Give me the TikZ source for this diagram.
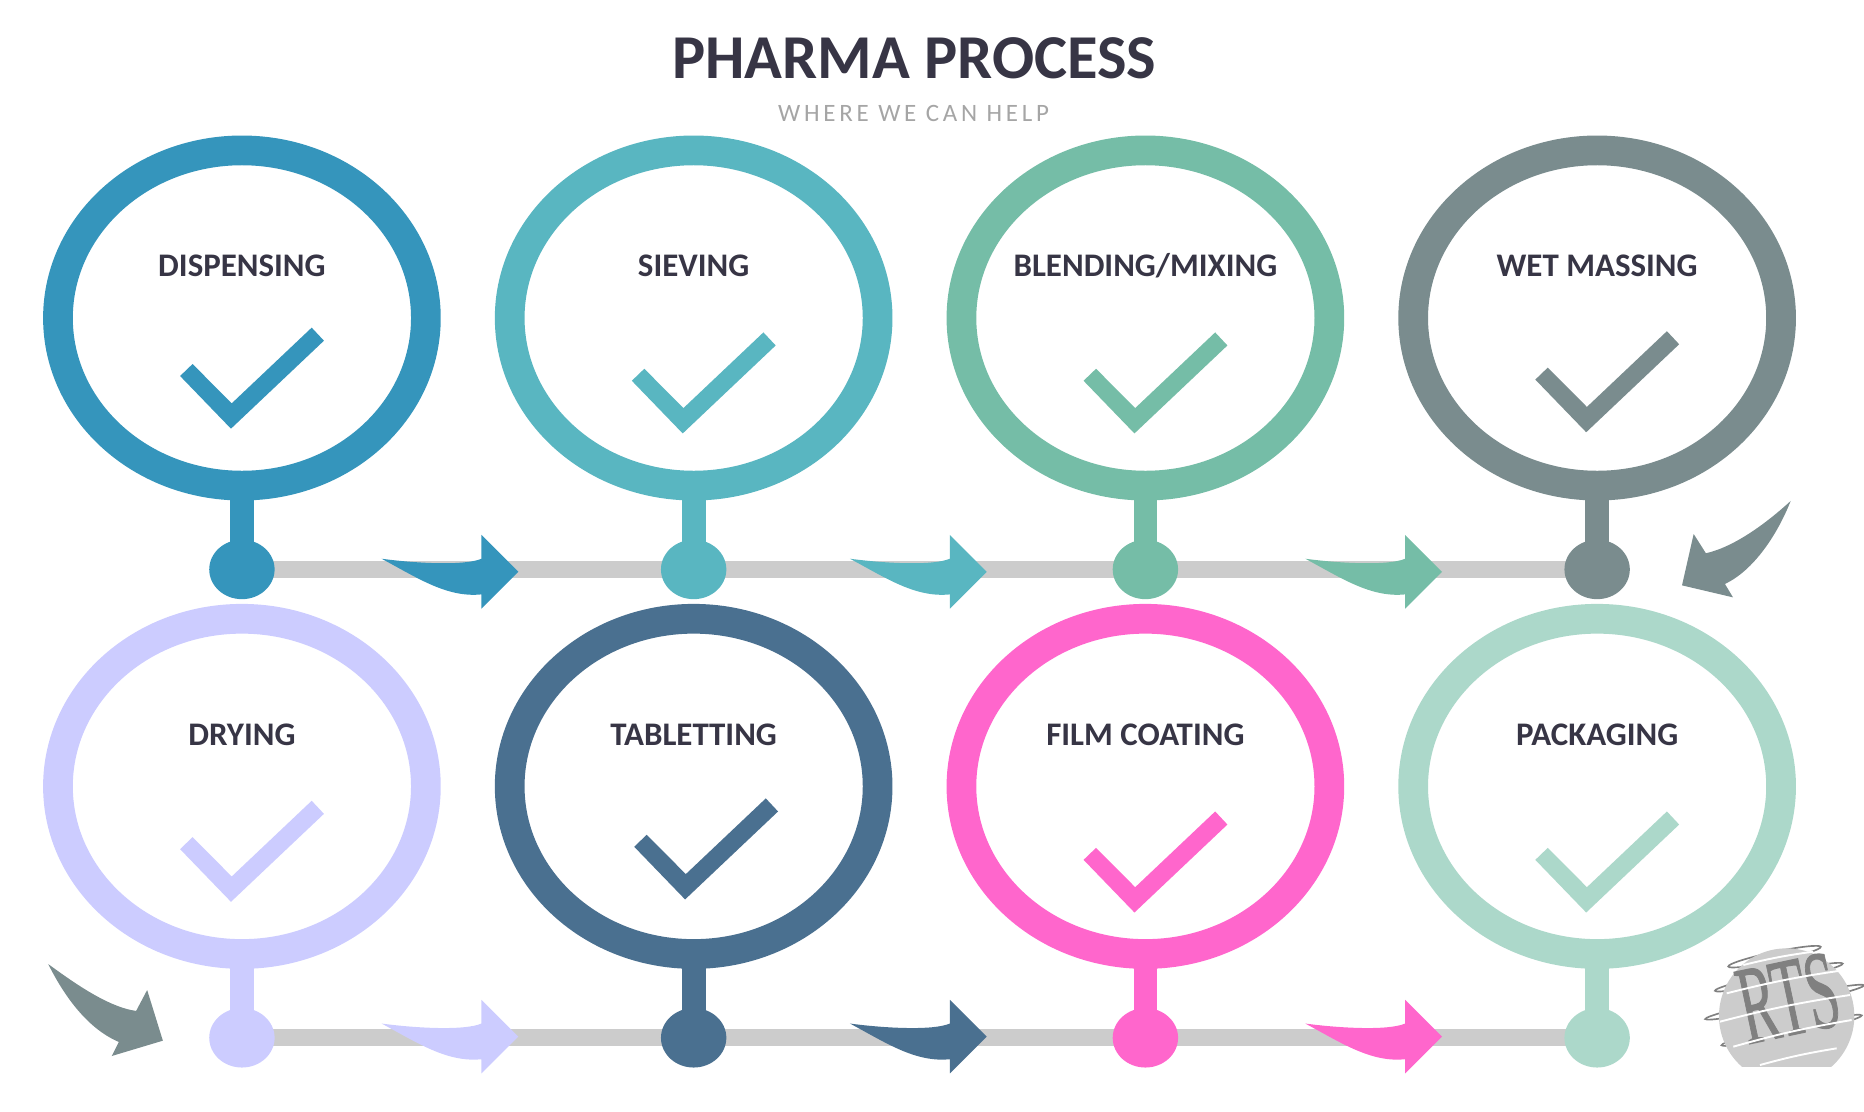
\documentclass[tikz,border=0pt]{standalone}
\usepackage{fontspec}
\setmainfont{Carlito}
\newfontfamily\subfont[LetterSpace=15]{Carlito}
\newfontfamily\logofont[FakeBold=1.2]{Liberation Serif}
\usetikzlibrary{backgrounds,calc,shapes.geometric}
\definecolor{inkdark}{HTML}{373545}
\definecolor{inkgrey}{HTML}{A5A5A5}
\definecolor{barcol}{HTML}{CCCCCC}
\definecolor{colA}{HTML}{3595BC}
\definecolor{colB}{HTML}{59B6C1}
\definecolor{colC}{HTML}{75BDA7}
\definecolor{colD}{HTML}{7A8C8E}
\definecolor{colE}{HTML}{CCCCFF}
\definecolor{colF}{HTML}{4A7090}
\definecolor{colG}{HTML}{FF66CC}
\definecolor{colH}{HTML}{ACD8CA}
\definecolor{logotext}{HTML}{808080}
\tikzset{
  stepring/.style={draw=#1,ellipse,line width=25pt,fill=white,minimum width=309.5pt,minimum height=282pt,inner sep=0pt,outer sep=0pt},
  stepdot/.style={fill=#1,ellipse,minimum width=55pt,minimum height=50pt,inner sep=0pt,outer sep=0pt},
  stemline/.style={draw=#1,line width=20pt},
  barline/.style={draw=barcol,line width=14.5pt},
  steptext/.style={anchor=base,text=inkdark,font=\bfseries\fontsize{27.7}{30}\selectfont},
  flowarrow/.pic={\path[pic actions] (-115,-11) .. controls (-85,-7) and (-45,-5) .. (-31,-11) -- (-31,-31) -- (0,0) -- (-31,31) -- (-31,19) .. controls (-60,22) and (-85,5) .. cycle;},
  checkmark/.pic={\path[pic actions] (-52,48.8) -- (-41.5,38.7) -- (-8.6,71.8) -- (58.7,8.1) -- (69,19.1) -- (-9.2,93.1) -- cycle;}
}
\begin{document}
\begin{tikzpicture}[x=1pt,y=-1pt]
\useasboundingbox (0,0) rectangle (1568,934.6);
\node[anchor=base,text=inkdark,font=\bfseries\fontsize{52.5}{60}\selectfont] (title) at (769,66) {PHARMA PROCESS};
\node[anchor=base,text=inkgrey,font=\subfont\fontsize{21}{24}\selectfont] (subtitle) at (768.5,102) {WHERE WE CAN HELP};
% steps: number/x/y/colour/text/tick offset
\foreach \n/\cx/\cy/\col/\txt/\tx/\ty in {
  1/203.5/267.5/colA/DISPENSING/0/0,
  2/583.5/267.5/colB/SIEVING/0/4,
  3/963.5/267.5/colC/{BLENDING/MIXING}/0/4,
  4/1343.5/267.5/colD/WET MASSING/0/3,
  5/203.5/661.5/colE/DRYING/0/4,
  6/583.5/661.5/colF/TABLETTING/2/2,
  7/963.5/661.5/colG/FILM COATING/0/13,
  8/1343.5/661.5/colH/PACKAGING/0/13}{
  \node[stepring=\col] (r\n) at (\cx,\cy) {};
  \node[stepdot=\col] (d\n) at (\cx,\cy+211.5) {};
  \begin{pgfonlayer}{background}
    \draw[stemline=\col] (r\n) -- (d\n.center);
  \end{pgfonlayer}
  \node[steptext] (t\n) at (\cx,\cy-34.7) {\txt};
  \pic[fill=\col] at ($(\cx,\cy)+(\tx,\ty)$) {checkmark};
}
\begin{pgfonlayer}{background}
  \draw[barline] (d1.center) -- (d4.center);
  \draw[barline] (d5.center) -- (d8.center);
\end{pgfonlayer}
% arrows along the bars
\pic[fill=colA] at (436,481) {flowarrow};
\pic[fill=colB] at (830,481) {flowarrow};
\pic[fill=colC] at (1213,481) {flowarrow};
\pic[fill=colE] at (436,872) {flowarrow};
\pic[fill=colF] at (830,872) {flowarrow};
\pic[fill=colG] at (1213,872) {flowarrow};
% turning arrows
\fill[colD] (1506.3,421.4) .. controls (1486,440) and (1459,460) .. (1435,465.4) -- (1424.7,449.2) -- (1414.9,492.4) -- (1457.8,502.5) -- (1451,491.2) .. controls (1475,480) and (1495,450) .. cycle;
\fill[colD] (40.6,811) .. controls (60,825) and (90,847) .. (114.5,850.4) -- (123.8,832.8) -- (137,875.4) -- (94,888.3) -- (100,876.5) .. controls (75,866) and (55,840) .. cycle;
% logo
\begin{scope}[shift={(1345.9,773.9)},x=0.2804pt,y=-0.2804pt]
  \clip (300,60) rectangle (800,440);
  \foreach \lx/\ly/\rx/\ry in {385/140/662/80,345/213/728/130,316/298/792/195,364/372/786/290,443/428/738/367}{
    \draw[logotext,line width=1.4pt,rotate around={12:({(\lx+\rx)/2},{(\ly+\ry)/2})}] ({(\lx+\rx)/2},{(\ly+\ry)/2}) ellipse ({veclen(\rx-\lx,\ry-\ly)/2} and 14);
  }
  \fill[barcol] (560,288) circle (203);
  \node[text=logotext,rotate=12,font=\logofont\fontsize{94}{94}\selectfont] (logo) at (565,235) {\scalebox{.5}[1]{RTS}};
  \foreach \lx/\ly/\rx/\ry in {430/135/640/95,380/220/735/150,360/305/750/225,400/380/755/300,480/435/710/385}{
    \draw[white,line width=1.6pt] (\lx,\ly) to[bend left=3] (\rx,\ry);
  }
\end{scope}
\end{tikzpicture}
\end{document}
